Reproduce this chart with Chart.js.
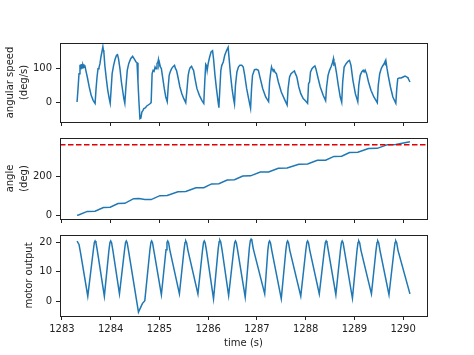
<!DOCTYPE html>
<html><head><meta charset="utf-8">
<script src="https://cdn.jsdelivr.net/npm/chart.js"></script>
<style>
html,body{margin:0;padding:0;background:#fff;}
#wrap{position:relative;width:474px;height:355px;background:#fff;}
#wrap canvas{position:absolute;left:0;top:0;}
</style></head><body>
<div id="wrap">
<canvas id="c1" width="474" height="355" style="width:474px;height:355px"></canvas>
<canvas id="c2" width="474" height="355" style="width:474px;height:355px"></canvas>
<canvas id="c3" width="474" height="355" style="width:474px;height:355px"></canvas>
</div>
<script>
// ---- tick labels ----
const timeTicks = [1283, 1284, 1285, 1286, 1287, 1288, 1289, 1290];
const speedTicks = [0, 100];
const angleTicks = [0, 200];
const motorTicks = [0, 10, 20];
const angleLimit = 360;

// ---- angular speed (deg/s) ----
const speedTime = [
 1283.31,1283.33,1283.35,1283.37,1283.38,1283.39,1283.40,1283.41,1283.42,1283.43,1283.44,1283.45,1283.46,1283.47,1283.49,1283.52,1283.56,1283.60,1283.64,
 1283.68,1283.70,1283.72,1283.74,1283.76,1283.78,1283.80,1283.82,1283.84,1283.85,1283.86,1283.88,1283.91,1283.94,1283.97,
 1283.99,1284.01,1284.03,1284.06,1284.09,1284.12,1284.14,1284.16,1284.19,1284.22,1284.25,1284.27,
 1284.29,1284.31,1284.34,1284.37,1284.41,1284.45,1284.48,1284.52,1284.54,1284.56,1284.58,
 1284.60,1284.62,1284.64,1284.66,1284.68,1284.71,1284.74,1284.77,1284.80,
 1284.83,1284.85,1284.87,1284.89,1284.91,1284.93,1284.95,1284.97,1284.98,1284.99,1285.00,1285.02,1285.04,1285.07,1285.10,1285.13,
 1285.16,1285.18,1285.20,1285.22,1285.25,1285.28,1285.31,1285.33,1285.35,1285.38,1285.42,1285.46,1285.50,
 1285.54,1285.57,1285.59,1285.61,1285.63,1285.66,1285.68,1285.70,1285.73,1285.77,1285.82,1285.87,
 1285.91,1285.93,1285.95,1285.97,1285.98,1286.00,1286.03,1286.06,1286.09,1286.11,1286.14,1286.17,1286.20,
 1286.22,1286.24,1286.26,1286.28,1286.31,1286.34,1286.38,1286.41,1286.43,1286.46,1286.49,1286.52,
 1286.54,1286.56,1286.59,1286.62,1286.65,1286.69,1286.72,1286.75,1286.79,1286.83,
 1286.87,1286.89,1286.91,1286.95,1286.99,1287.03,1287.07,1287.12,1287.18,
 1287.24,1287.26,1287.28,1287.30,1287.31,1287.33,1287.35,1287.37,1287.40,1287.44,1287.50,1287.56,
 1287.62,1287.64,1287.67,1287.70,1287.74,1287.77,1287.79,1287.82,1287.86,1287.90,1287.95,1288.00,
 1288.04,1288.06,1288.08,1288.10,1288.13,1288.16,1288.19,1288.21,1288.25,1288.30,1288.36,
 1288.41,1288.43,1288.46,1288.49,1288.52,1288.55,1288.57,1288.58,1288.60,1288.63,1288.67,1288.71,
 1288.74,1288.76,1288.79,1288.83,1288.87,1288.90,1288.93,1288.97,1289.02,
 1289.07,1289.09,1289.12,1289.15,1289.18,1289.20,1289.22,1289.25,1289.29,1289.34,1289.40,
 1289.47,1289.49,1289.52,1289.55,1289.58,1289.61,1289.63,1289.64,1289.65,1289.67,1289.70,1289.74,1289.79,
 1289.85,1289.87,1289.89,1289.92,1289.96,1290.00,1290.04,1290.08,1290.10,1290.12,1290.14
];
const speedValue = [
 0,40,85,112,100,113,105,114,102,112,108,113,104,110,95,75,45,20,5,
 -4,40,75,100,103,115,135,150,166,155,150,110,70,35,10,
 -4,40,85,110,128,140,142,130,100,60,30,10,
 -4,40,95,115,130,137,130,120,118,60,0,
 -50,-48,-30,-26,-20,-18,-12,-9,-6,
 -2,85,95,92,105,100,115,120,127,112,118,105,100,70,40,15,
 1,45,80,90,100,106,110,100,95,75,45,25,10,
 -2,45,80,95,103,107,100,95,70,40,20,5,
 -4,60,113,108,95,115,135,150,154,130,80,40,5,
 -17,40,95,110,120,140,155,164,130,80,40,10,
 -6,50,90,105,110,110,105,80,40,10,
 -19,40,80,97,98,95,70,40,15,
 1,60,85,105,100,95,97,90,85,60,30,10,
 -9,40,75,85,90,93,85,75,45,25,10,3,
 -4,55,60,90,100,105,108,100,75,45,20,
 4,45,80,95,105,118,130,112,115,90,50,15,
 -1,60,105,115,122,125,110,65,25,
 1,50,80,90,95,90,96,85,60,35,15,
 -2,50,85,100,108,115,122,110,120,100,75,45,15,
 -4,40,70,72,72,75,78,75,72,66,60
];

// ---- angle (deg) ----
const angleTime = [
 1283.31,1283.34,1283.52,1283.68,1283.85,1283.99,1284.15,1284.29,1284.47,1284.58,1284.70,1284.83,
 1285.01,1285.16,1285.38,1285.54,1285.75,1285.91,1286.07,1286.22,1286.39,1286.54,1286.71,1286.87,
 1287.07,1287.24,1287.44,1287.62,1287.86,1288.04,1288.24,1288.41,1288.58,1288.74,1288.90,1289.07,
 1289.29,1289.47,1289.68,1289.85,1290.14
];
const angleValue = [
 0,2,20,21,40,41,60,61,85,86,81,80,
 100,101,120,121,140,141,160,161,180,181,200,201,
 220,221,240,241,260,261,280,281,300,301,320,321,
 340,341,360,361,375
];

// ---- motor output ----
const motorTime = [
 1283.31,1283.325,1283.35,1283.38,1283.53,
 1283.645,1283.665,1283.68,1283.698,1283.725,1283.87,
 1283.965,1283.985,1284.00,1284.018,1284.045,1284.18,
 1284.285,1284.305,1284.32,1284.338,1284.365,1284.57,1284.65,1284.70,
 1284.805,1284.825,1284.84,1284.858,1284.885,1285.04,
 1285.135,1285.155,1285.17,1285.188,1285.215,1285.41,
 1285.505,1285.525,1285.54,1285.558,1285.585,1285.79,
 1285.885,1285.905,1285.92,1285.938,1285.965,1286.11,
 1286.205,1286.225,1286.24,1286.258,1286.285,1286.42,
 1286.525,1286.545,1286.56,1286.578,1286.605,1286.76,
 1286.845,1286.865,1286.88,1286.898,1286.925,1287.16,
 1287.225,1287.245,1287.26,1287.278,1287.305,1287.50,
 1287.595,1287.615,1287.63,1287.648,1287.675,1287.90,
 1288.005,1288.025,1288.04,1288.058,1288.085,1288.28,
 1288.385,1288.405,1288.42,1288.438,1288.465,1288.62,
 1288.715,1288.735,1288.75,1288.768,1288.795,1288.96,
 1289.055,1289.075,1289.09,1289.108,1289.135,1289.35,
 1289.445,1289.465,1289.48,1289.498,1289.525,1289.71,
 1289.815,1289.835,1289.85,1289.868,1289.895,1290.14
];
const motorValue = [
 20.3,20.3,19.2,16.5,1.7,
 17.4,19.9,20.4,19.8,17.2,1.7,
 17.4,19.9,20.4,19.8,17.2,2.5,
 17.4,19.9,20.4,19.8,17.2,-3.7,-0.8,0.2,
 17.4,19.9,20.4,19.8,17.2,2.2,
 17.4,19.9,20.4,19.8,17.2,2.5,
 17.4,19.9,20.4,19.8,17.2,2.5,
 17.4,19.9,20.4,19.8,17.2,0.8,
 17.6,20.1,20.6,20.0,17.4,1.9,
 17.4,19.9,20.4,19.8,17.2,1.4,
 18.0,20.5,21.0,20.4,17.8,2.5,
 17.4,19.9,20.4,19.8,17.2,0.8,
 17.4,19.9,20.4,19.8,17.2,1.7,
 17.4,19.9,20.4,19.8,17.2,2.5,
 17.4,19.9,20.4,19.8,17.2,2.2,
 17.4,19.9,20.4,19.8,17.2,1.0,
 17.4,19.9,20.4,19.8,17.2,2.5,
 17.4,19.9,20.4,19.8,17.2,2.2,
 17.4,19.9,20.4,19.8,17.2,2.5
];

const FONT = 'DejaVu Sans';
const INK = '#222';
const LINE = '#1f77b4';

const boxPlugin = {
  id: 'box',
  afterDatasetsDraw(chart) {
    const a = chart.chartArea, ctx = chart.ctx;
    ctx.save();
    ctx.strokeStyle = INK;
    ctx.lineWidth = 1;
    ctx.strokeRect(Math.round(a.left) + 0.5, Math.round(a.top) + 0.5,
                   Math.round(a.right - a.left), Math.round(a.bottom - a.top));
    ctx.restore();
  }
};

const limitPlugin = {
  id: 'limit',
  afterDatasetsDraw(chart) {
    const a = chart.chartArea, ctx = chart.ctx;
    const y = chart.scales.y.getPixelForValue(angleLimit);
    ctx.save();
    ctx.strokeStyle = '#e00000';
    ctx.lineWidth = 1.5;
    ctx.setLineDash([5.5, 2.5]);
    ctx.beginPath();
    ctx.moveTo(a.left, y);
    ctx.lineTo(a.right, y);
    ctx.stroke();
    ctx.restore();
  }
};

function pts(ts, vs) { return ts.map((t, i) => ({ x: t, y: vs[i] })); }

function makeChart(id, cfg) {
  const W = 474, H = 355;
  return new Chart(document.getElementById(id), {
    type: 'line',
    data: { datasets: [{
      data: pts(cfg.t, cfg.v),
      borderColor: LINE, borderWidth: 1.5, pointRadius: 0, tension: 0, fill: false
    }]},
    plugins: cfg.plugins,
    options: {
      responsive: false, animation: false, events: [],
      layout: { padding: { left: 0, right: W - 427, top: cfg.top, bottom: H - cfg.bottom - cfg.xh } },
      plugins: { legend: { display: false }, tooltip: { enabled: false } },
      scales: {
        x: {
          type: 'linear', min: 1282.96, max: 1290.49,
          afterBuildTicks: s => { s.ticks = timeTicks.map(v => ({ value: v })); },
          afterFit: s => { s.height = cfg.xh; s.paddingLeft = 0; s.paddingRight = 0; },
          grid: { drawOnChartArea: false, drawTicks: true, tickLength: 4, color: INK, lineWidth: 1 },
          border: { display: false },
          ticks: { display: cfg.xLabels, color: INK, font: { family: FONT, size: 10 }, padding: 3,
                   maxRotation: 0, autoSkip: false, callback: v => String(v) },
          title: { display: !!cfg.xTitle, text: cfg.xTitle || '', color: INK,
                   font: { family: FONT, size: 10, lineHeight: 1.2 }, padding: { top: 0, bottom: 6 } }
        },
        y: {
          type: 'linear', min: cfg.yMin, max: cfg.yMax,
          afterBuildTicks: s => { s.ticks = cfg.yTicks.map(v => ({ value: v })); },
          afterFit: s => { s.width = 60; s.paddingTop = 0; s.paddingBottom = 0; },
          grid: { drawOnChartArea: false, drawTicks: true, tickLength: 4, color: INK, lineWidth: 1 },
          border: { display: false },
          ticks: { color: INK, font: { family: FONT, size: 10 }, padding: 4, callback: v => String(v) },
          title: { display: true, text: cfg.yTitle, color: INK,
                   font: { family: FONT, size: 10, lineHeight: 1.4 }, padding: { top: cfg.yTitlePad, bottom: 0 } }
        }
      }
    }
  });
}

makeChart('c1', { t: speedTime, v: speedValue, top: 43, bottom: 122, xh: 6, xLabels: false,
  yMin: -60, yMax: 177, yTicks: speedTicks, yTitle: ['angular speed', '(deg/s)'], yTitlePad: 3,
  plugins: [boxPlugin] });
makeChart('c2', { t: angleTime, v: angleValue, top: 138, bottom: 219, xh: 6, xLabels: false,
  yMin: -18.75, yMax: 393.75, yTicks: angleTicks, yTitle: ['angle', '(deg)'], yTitlePad: 3,
  plugins: [limitPlugin, boxPlugin] });
makeChart('c3', { t: motorTime, v: motorValue, top: 235, bottom: 316, xh: 39, xLabels: true, xTitle: 'time (s)',
  yMin: -5, yMax: 22.4, yTicks: motorTicks, yTitle: 'motor output', yTitlePad: 22,
  plugins: [boxPlugin] });
</script>
</body></html>
